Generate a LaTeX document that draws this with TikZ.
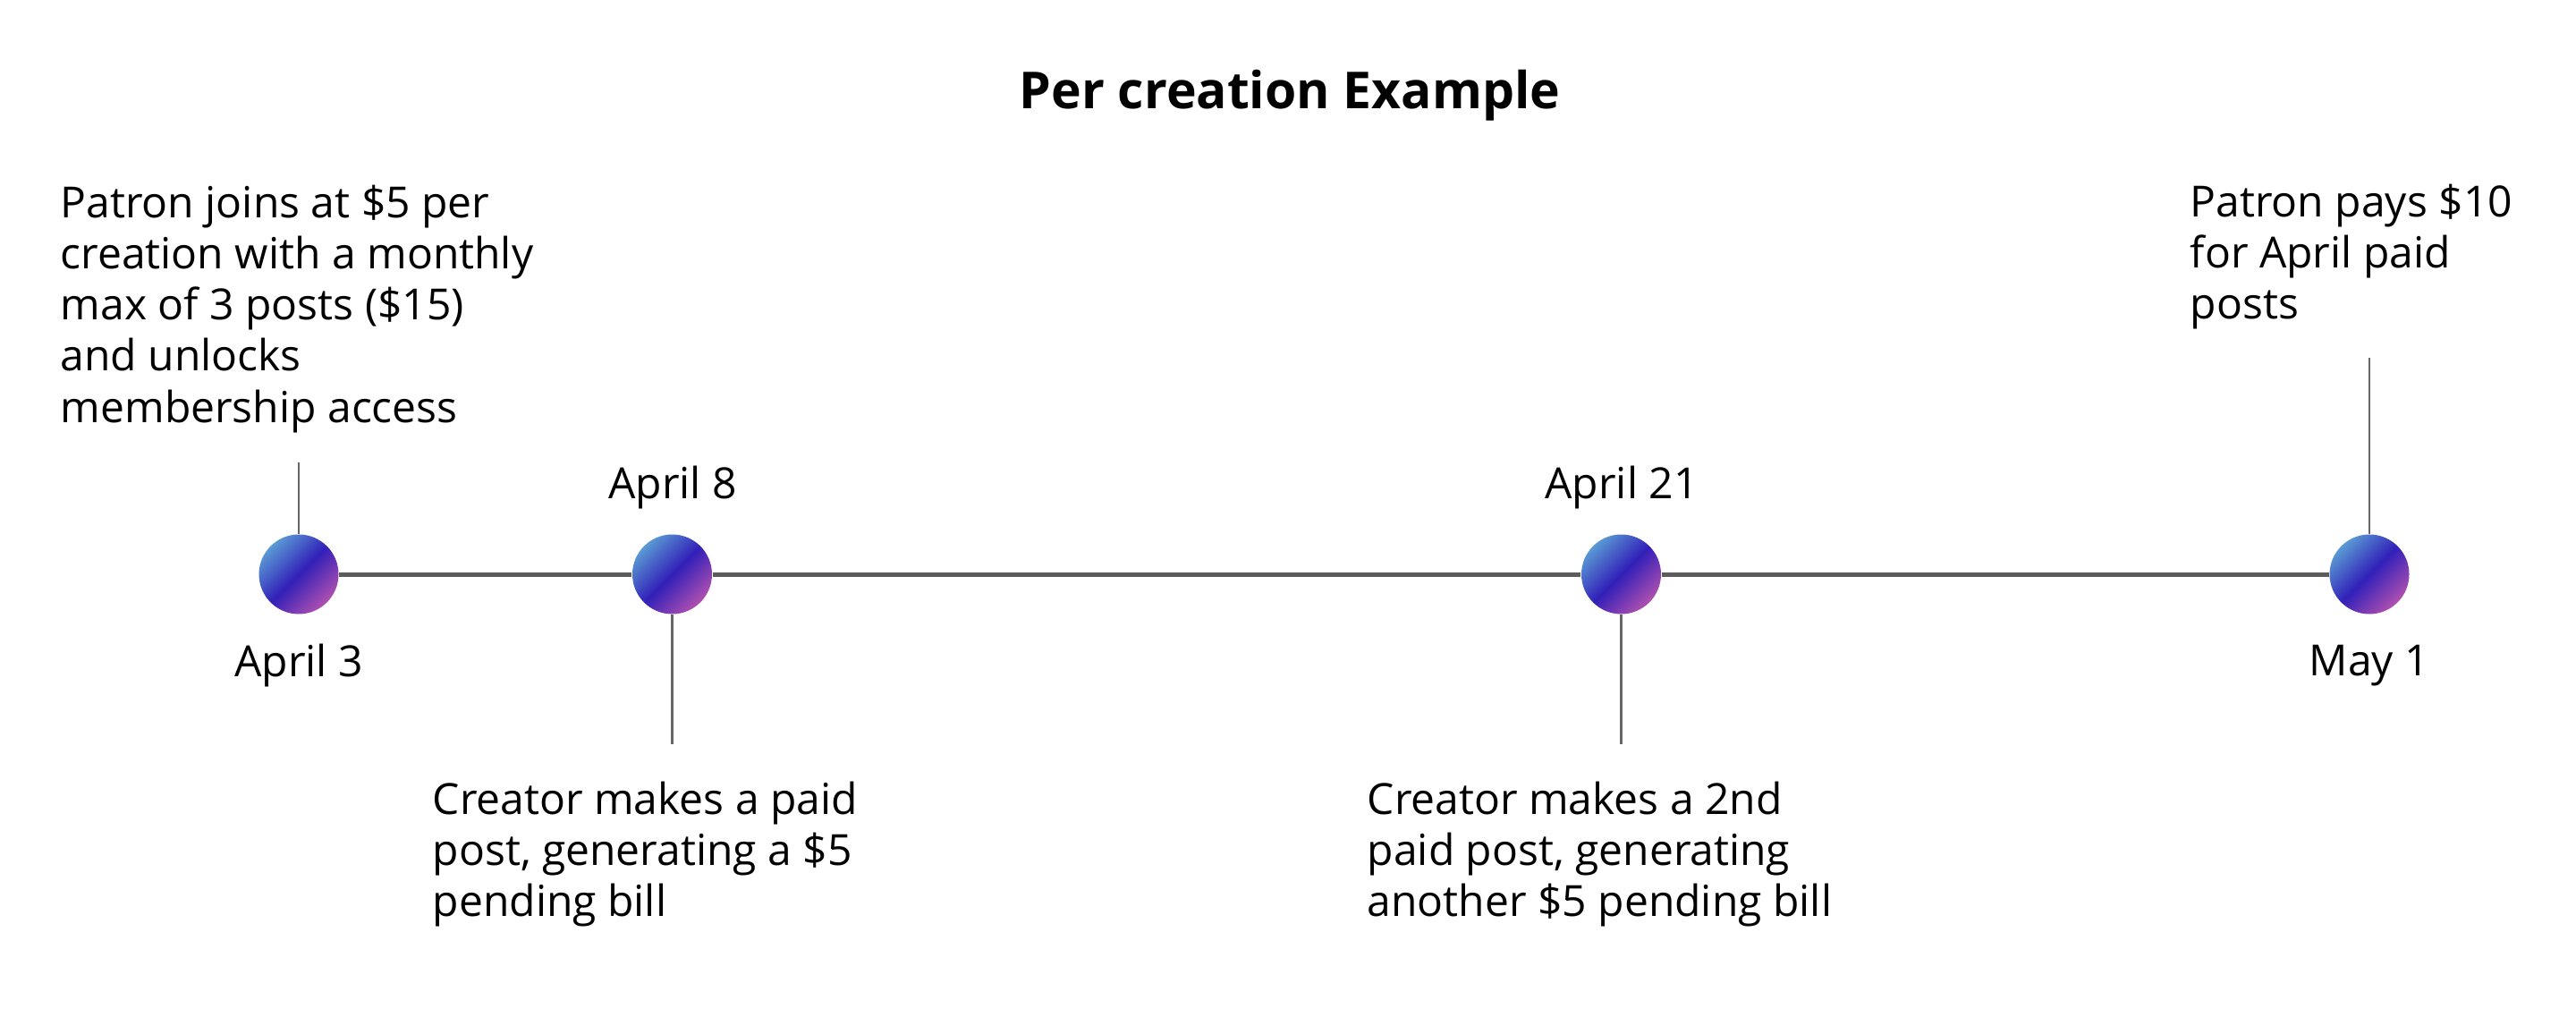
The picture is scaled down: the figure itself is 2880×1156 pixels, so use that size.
\documentclass[tikz,border=0pt]{standalone}
\usepackage{fontspec}
\setmainfont{Open Sans}
\definecolor{axisgray}{HTML}{5C5C5C}
\definecolor{tickgray}{HTML}{666666}
\definecolor{dottop}{HTML}{5A9AD4}
\definecolor{dotmid}{HTML}{3120B8}
\definecolor{dotbot}{HTML}{B050B0}
\newcommand{\mlines}[1]{\begin{tabular}[t]{@{}l@{}}#1\end{tabular}}
\begin{document}
\begin{tikzpicture}[x=0.25pt,y=-0.25pt,
  body/.style={font=\fontsize{12}{14.33}\selectfont, inner sep=0pt, anchor=base west},
  datelbl/.style={font=\fontsize{12}{14.33}\selectfont, inner sep=0pt, anchor=base},
  ttl/.style={font=\fontsize{14.25}{17}\selectfont\bfseries, inner sep=0pt, anchor=base},
  axisline/.style={draw=axisgray, line width=1.25pt},
  tickline/.style={draw=tickgray, line width=0.6pt},
  dot/.style={circle, minimum size=22.25pt, inner sep=0pt, shading=axis,
    top color=dottop, bottom color=dotbot, middle color=dotmid, shading angle=45}]
\useasboundingbox (0,0) rectangle (2880,1156);

\node[ttl] (title) at (1442,122) {Per creation Example};

\node[dot] (c1) at (334,642) {};
\node[dot] (c2) at (751.5,642) {};
\node[dot] (c3) at (1812.5,642) {};
\node[dot] (c4) at (2649,642) {};

\draw[axisline] (c1) -- (c2);
\draw[axisline] (c2) -- (c3);
\draw[axisline] (c3) -- (c4);

\coordinate (t1) at (334,517);
\coordinate (t2) at (751.5,832);
\coordinate (t3) at (1812.5,832);
\coordinate (t4) at (2649,400);
\draw[tickline] (t1) -- (c1);
\draw[tickline] (c2) -- (t2);
\draw[tickline] (c3) -- (t3);
\draw[tickline] (t4) -- (c4);

\node[datelbl] (d1) at (334,756) {April 3};
\node[datelbl] (d2) at (752,557) {April 8};
\node[datelbl] (d3) at (1813,557) {April 21};
\node[datelbl] (d4) at (2649,755) {May 1};

\node[body] (e1) at (67,243) {\mlines{Patron joins at \$5 per\\creation with a monthly\\max of 3 posts (\$15)\\and unlocks\\membership access}};
\node[body] (e2) at (483,910) {\mlines{Creator makes a paid\\post, generating a \$5\\pending bill}};
\node[body] (e3) at (1528,910) {\mlines{Creator makes a 2nd\\paid post, generating\\another \$5 pending bill}};
\node[body] (e4) at (2448,242) {\mlines{Patron pays \$10\\for April paid\\posts}};
\end{tikzpicture}
\end{document}
